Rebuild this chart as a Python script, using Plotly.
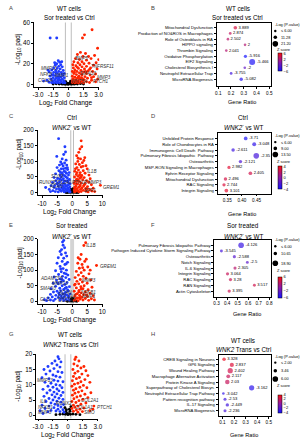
import plotly.graph_objects as go

W, H = 307, 440
FONT = "Arial"
BLUE = "#1f3cff"
RED = "#ff2400"

# ---------------- Volcano data (log2FC, -log10 padj) ----------------
A_blue = [(-1.8,45),(-1.15,45),(-1.0,23),(-0.85,21.5),(-1.15,20),(-0.75,19),(-1.3,18.5),(-0.95,17.5),
          (-0.6,17),(-1.45,16),(-1.1,15.5),(-0.8,15),(-1.65,14),(-1.25,13.5),(-0.5,13.5),(-0.95,12.5),
          (-1.9,12),(-1.45,11.5),(-0.7,11.5),(-1.15,10.5),(-0.4,10.5),(-1.6,9.5),(-0.9,9.5),(-1.3,8.5),
          (-0.55,8.5),(-1.8,8),(-1.05,7.5),(-0.75,7),(-1.5,6.5),(-0.4,6.5),(-1.2,6),(-0.95,5.5),(-1.7,5),
          (-0.6,5),(-1.35,4.5),(-0.8,4),(-2.1,4),(-1.05,3.5),(-0.45,3.5),(-1.55,3),(-2.45,3.2),(-1.25,2.5),
          (-0.7,2.5),(-1.9,2),(-1.0,2),(-0.4,2),(-1.4,1.5),(-0.85,1.5),(-0.55,1.5),(-1.15,1.5),(-1.65,1.6),
          (-0.33,1.5),(-2.0,13.8),(-1.35,21),(-0.65,22),(-1.2,11.5),(-0.9,7),(-0.6,10),(-1.5,9),(-1.0,4.5)]
A_red = [(2.35,53),(1.6,48),(1.4,45),(2.9,35),(3.0,24),(2.0,27),(1.7,30),(1.2,31),(0.9,29),(2.6,28),
         (1.45,27),(0.7,25),(2.25,25),(1.1,24),(1.8,23.5),(0.55,22),(1.35,22),(2.75,21),(0.95,21),
         (2.05,20.5),(1.55,20),(0.45,19),(1.15,19),(2.5,18.5),(0.75,18),(1.8,17.5),(1.35,17),(0.5,16),
         (2.2,16),(1.0,15.5),(2.85,15),(1.6,15),(0.65,14),(1.25,13.5),(1.95,13),(0.4,12.5),(0.85,12.5),
         (2.4,12.5),(1.5,12),(1.1,11),(0.55,10.5),(1.8,10.5),(2.7,10),(0.8,9.5),(1.35,9),(2.15,9),(0.4,8),
         (1.05,8),(1.65,7.5),(2.5,7.5),(0.65,7),(1.3,6.5),(0.9,6),(1.9,6),(0.45,5.5),(2.9,5),(1.15,5),
         (0.7,4.5),(1.55,4.5),(2.3,4),(0.4,3.5),(1.0,3.5),(1.35,3),(0.6,2.5),(1.8,2.5),(0.85,2),(1.2,2),
         (0.4,1.8),(2.1,1.8),(1.5,1.6),(0.65,1.5),(1.0,1.5),(2.7,2.5),(1.3,10),(0.9,16.5),(1.7,12.5),
         (2.1,14.5),(0.6,11.5),(1.4,5.5),(1.0,7),(2.3,6.5),(0.8,3)]
A_ns = [(-0.25,0.2),(-0.15,0.5),(-0.05,0.1),(0.05,0.3),(0.15,0.6),(0.25,0.3),(-0.2,1.0),(0.2,1.1),
        (-0.28,1.8),(0.28,2.0),(-0.1,0.8),(0.1,0.9),(-0.5,0.5),(0.5,0.5),(-0.7,0.8),(0.7,0.7),(-0.9,0.4),
        (0.9,0.4),(-1.2,0.6),(1.2,0.7),(-0.4,1.0),(0.4,1.1),(-1.5,0.3),(1.5,0.3),(0.0,0.5),(-0.35,0.2),
        (0.35,0.2),(-0.6,0.2),(0.6,0.2),(-0.25,2.5),(0.22,3.0)]

C_blue = [(-4.5,173),(-2.4,147),(-2.2,130),(-5.1,116),(-2.8,122),(-3.3,108),(-2.0,104),(-3.8,98),(-2.5,95),
          (-4.2,88),(-1.8,88),(-3.0,85),(-5.0,80),(-2.2,78),(-3.6,76),(-1.5,74),(-4.4,70),(-2.7,68),
          (-3.3,62),(-1.9,62),(-5.5,60),(-4.0,57),(-1.2,56),(-2.5,54),(-3.7,50),(-6.0,48),(-1.6,47),
          (-4.8,45),(-2.9,44),(-0.9,42),(-3.5,40),(-5.4,38),(-2.1,37),(-4.2,34),(-1.3,33),(-6.5,32),
          (-3.0,30),(-0.7,28),(-5.0,27),(-2.4,26),(-3.9,24),(-1.7,22),(-7.0,22),(-4.6,20),(-2.9,19),
          (-0.8,18),(-6.0,16),(-3.5,15),(-1.4,14),(-2.2,12),(-5.2,11),(-8.8,16),(-7.6,10),(-4.1,9),
          (-0.9,9),(-2.8,7),(-6.4,6),(-1.9,5),(-3.6,4),(-5.6,3),(-1.1,3),(-2.6,2),(-4.6,2),(-7.2,3),
          (-0.7,2),(-3.2,11),(-1.5,38),(-2.6,36),(-4.0,43),(-2.0,50),(-3.0,56),(-1.0,64),(-2.3,67),
          (-3.9,66),(-2.9,76),(-1.6,80),(-3.4,92),(-4.9,30),(-2.0,20),(-3.2,22),(-1.2,25),(-5.8,22),
          (-4.4,12),(-2.6,14),(-1.6,8)]
C_red = [(3.0,166),(3.2,147),(2.2,129),(3.9,103),(9.4,23),(2.6,140),(1.5,118),(4.2,112),(2.8,108),
         (1.9,100),(3.4,96),(1.2,92),(2.4,90),(4.6,86),(3.0,82),(1.6,80),(5.0,76),(2.1,72),(3.7,70),
         (0.9,68),(2.7,64),(4.3,62),(1.4,58),(5.6,56),(3.2,55),(2.0,52),(0.8,50),(4.0,48),(2.6,46),
         (6.0,44),(1.5,43),(3.5,41),(4.8,38),(1.0,36),(2.3,35),(5.5,33),(3.0,31),(0.7,29),(4.3,28),
         (1.8,27),(6.4,25),(2.7,24),(3.8,21),(1.2,20),(5.1,19),(2.2,17),(0.8,16),(3.3,15),(7.0,14),
         (4.5,13),(1.6,12),(2.8,10),(5.9,9),(0.7,8),(3.7,7),(2.0,6),(6.6,5),(4.6,4),(1.2,4),(3.0,3),
         (0.8,2),(2.2,2),(5.3,2),(7.5,3),(1.8,37),(2.5,57),(1.1,76),(3.6,84),(2.0,110),(1.4,28),
         (2.6,20),(4.0,24),(1.0,12),(2.0,40),(3.0,50),(1.6,64),(5.0,12)]
C_ns = [(-0.5,1),(0.5,1),(-0.3,3),(0.3,3),(0,0.5),(-0.2,6),(0.2,6),(-1.0,0.5),(1.0,0.5),(-1.5,0.3),
        (1.5,0.3),(-2,0.2),(2,0.2),(-0.4,10),(0.3,12)]

E_blue = [(-3.5,166),(-3.2,190),(-2.8,195),(-3.0,180),(-2.5,172),(-4.0,160),(-2.2,155),(-3.6,150),
          (-1.8,145),(-4.6,140),(-2.8,138),(-3.3,128),(-1.5,125),(-5.0,122),(-2.4,118),(-4.0,112),
          (-3.0,105),(-1.9,100),(-5.5,98),(-3.6,95),(-2.6,90),(-4.5,86),(-1.4,84),(-3.2,80),(-6.0,78),
          (-2.1,76),(-4.0,72),(-1.0,70),(-5.2,68),(-2.9,66),(-3.7,62),(-1.7,60),(-6.3,58),(-4.6,56),
          (-2.4,54),(-3.3,50),(-5.5,48),(-0.9,47),(-1.9,44),(-4.1,42),(-7.0,40),(-2.8,38),(-3.8,34),
          (-1.3,33),(-5.0,32),(-6.2,30),(-2.2,29),(-4.4,26),(-3.1,24),(-0.7,23),(-7.2,22),(-1.8,20),
          (-5.4,19),(-3.6,17),(-2.6,15),(-6.6,14),(-4.6,12),(-1.2,11),(-8.0,11),(-3.0,9),(-5.6,7),
          (-2.0,6),(-9.2,5),(-7.2,4),(-4.0,4),(-1.0,3),(-2.8,2),(-6.2,2),(-8.5,2),(-3.8,104),(-2.0,88),
          (-3.4,70),(-2.3,42),(-4.9,60),(-1.5,36),(-2.5,22),(-3.5,10),(-1.2,16),(-4.2,20),(-2.0,120)]
E_red = [(3.9,179),(4.5,188),(8.1,115),(3.0,150),(2.6,135),(4.2,128),(1.9,122),(3.3,118),(5.2,110),
         (2.4,106),(4.0,100),(1.4,96),(3.0,92),(5.6,88),(2.1,84),(3.7,80),(1.0,76),(4.6,74),(2.7,70),
         (6.2,68),(1.6,64),(3.4,62),(5.0,58),(2.2,56),(0.8,52),(4.0,50),(2.9,47),(6.6,45),(1.4,43),
         (3.6,40),(5.3,37),(2.3,35),(0.7,32),(4.4,30),(3.0,27),(6.0,26),(1.7,24),(3.8,21),(2.5,19),
         (7.0,18),(0.9,16),(5.1,15),(3.2,13),(1.9,11),(4.4,9),(6.4,8),(2.7,7),(1.0,5),(3.6,4),(5.5,3),
         (2.0,2),(0.7,2),(7.4,4),(4.8,20),(3.5,108),(2.0,140),(4.7,135),(6.0,100),(1.2,22),(2.2,30),
         (1.5,10),(3.0,40),(1.0,55),(2.6,12)]
E_ns = [(-0.4,1),(0.4,1),(0,0.5),(-0.3,4),(0.3,4),(-1,0.5),(1,0.5),(-1.6,0.3),(1.6,0.3),(-0.2,8),(0.2,9)]

G_blue = [(-1.0,19.2),(-0.9,18.5),(-1.3,17.8),(-0.7,17.5),(-1.6,17),(-1.1,16.5),(-2.0,16),(-0.8,15.8),
          (-1.4,15.3),(-2.4,15),(-1.8,14.5),(-1.0,14.3),(-0.6,14),(-2.2,13.5),(-1.5,13.2),(-1.2,12.8),
          (-0.8,12.5),(-2.6,12.3),(-1.9,12),(-1.4,11.5),(-1.0,11.2),(-0.5,11),(-2.3,10.8),(-1.7,10.5),
          (-1.2,10),(-0.8,9.8),(-2.0,9.5),(-1.5,9.2),(-0.6,9),(-1.1,8.6),(-2.5,8.5),(-1.8,8.2),(-0.9,8),
          (-1.4,7.6),(-0.5,7.5),(-2.1,7.3),(-1.1,7),(-1.6,6.7),(-0.7,6.5),(-2.4,6.2),(-1.3,6),(-0.9,5.6),
          (-1.9,5.5),(-0.5,5.2),(-1.5,5),(-1.1,4.6),(-2.2,4.5),(-0.7,4.3),(-1.7,4),(-1.3,3.6),(-0.45,3.5),
          (-2.6,3.3),(-1.0,3.2),(-1.9,3),(-0.7,2.7),(-1.4,2.5),(-2.3,2.2),(-1.0,2),(-0.5,1.8),(-1.7,1.6),
          (-1.2,1.4),(-0.8,1.2),(-2.0,1.1),(-0.4,1.0),(-2.8,1.5),(-2.5,0.6)]
G_red = [(0.8,19),(0.7,18.3),(1.1,17.8),(1.6,16),(0.6,16.8),(0.95,16.2),(1.3,15.5),(0.5,15),(1.8,14.6),
         (1.0,14.4),(0.7,13.8),(1.4,13.5),(2.0,13),(0.55,12.7),(1.15,12.4),(0.85,12),(1.7,11.7),
         (0.45,11.3),(1.3,11),(2.2,10.8),(1.0,10.5),(0.65,10.2),(1.55,9.8),(0.4,9.5),(1.2,9.2),(1.9,9),
         (0.8,8.7),(0.55,8.2),(1.4,8),(1.05,7.6),(2.3,7.4),(0.7,7.2),(1.7,6.9),(0.45,6.6),(1.25,6.3),
         (0.9,6),(2.0,5.8),(0.6,5.4),(1.5,5.2),(1.1,4.8),(0.4,4.5),(0.8,4.2),(1.8,4),(1.3,3.6),(0.55,3.3),
         (2.6,3.0),(1.0,3),(0.7,2.6),(1.6,2.4),(0.4,2.2),(1.2,2),(0.85,1.7),(2.2,1.5),(0.55,1.3),
         (1.45,1.2),(1.0,1.0),(2.5,2.0)]
G_ns = [(-0.25,0.3),(-0.1,0.6),(0.0,0.2),(0.1,0.5),(0.25,0.3),(-0.2,1.2),(0.2,1.3),(-0.5,0.4),(0.5,0.4),
        (-0.8,0.3),(0.8,0.3),(-1.2,0.2),(1.2,0.2),(-0.3,2.5),(0.3,2.8),(-0.15,1.8),(0.15,2.0)]

# gene labels (name, log2FC, -log10 padj, anchor)
A_genes = [("MMP13",-1.9,15.6,"center"),("NFKB",-2.25,9.9,"center"),("COL2A",-2.25,4.1,"center"),
           ("MMP1",-0.65,8.5,"center"),("BMP5",1.3,25.5,"center"),("TNFRSF11",2.05,17.8,"left"),
           ("SMAD3",1.9,10.8,"center"),("MMP3",2.65,7,"left"),("WNT5A",1.1,3,"center"),
           ("PTCH1",2.2,2.9,"left")]
C_genes = [("IL1B",6.5,68,"center"),("GREM1",9.6,15,"left"),("MMP3",7.5,31,"center"),
           ("PTH1R",2.7,31,"center"),("SPP1",6.1,7.6,"center"),("RUNX2",-8.4,31,"center"),
           ("SOX9",-4.7,52,"center"),("ACAN",-5.5,18,"center"),("COL2A1",-3.0,31,"center")]
E_genes = [("IL1B",6.2,179,"center"),("GREM1",8.6,113,"left"),("ADAMTS5",-6.9,73,"center"),
           ("MMP13",-3.9,57,"center"),("SMAD3",-7.9,42,"center"),("ACAN",-2.5,27,"center"),
           ("COL1A1",-1.8,14,"center"),("COL2A1",-1.8,2,"center"),("MMP3",5.6,66,"center"),
           ("NFKB1",5.6,29,"center"),("MMP1",5.6,15,"center"),("GLI1",-9,5,"center")]
G_genes = [("MMP13",-2.3,11.4,"center"),("IL6",-2.45,4.6,"center"),("NFKB1",-2.3,2.5,"center"),
           ("MMP3",-2.3,0.8,"center"),("RUNX2",-0.4,3.9,"center"),("COL2A1",2.2,5,"center"),
           ("COL1A1",1.6,2.6,"center"),("PTCH1",2.75,2.6,"left"),("SMO",2.2,0.8,"center")]

# ---------------- Pathway dot-plot data ----------------
B_terms = ["Mitochondrial Dysfunction","Production of NO&ROS in Macrophages","Role of Osteoblasts in RA",
           "HIPPO signaling","Thrombin Signaling","Oxidative Phosphorylation","EIF2 Signaling",
           "Cholesterol Biosynthesis I","Neutrophil Extracellular Trap","MicroRNA Biogenesis"]
B_ratio = [0.234,0.194,0.176,0.31,0.163,0.313,0.366,0.308,0.201,0.28]
B_z = [3.889,2.874,2.502,2,2.041,-5.916,-5.466,-2,-3.755,-5.082]
B_logp = [12,8,7,7,7,10,23,7,8,11]
B_leg = [6.00,11.28,21.20]

D_terms = ["Unfolded Protein Response","Role of Chondrocytes in RA","Immunogenic Cell Death  Pathway",
           "Pulmonary Fibrosis Idiopathic  Pathway","Osteoarthritis","MSP-RON Signaling in Macrophages",
           "Ephrin Receptor Signaling","Mitochondrial Dysfunction","RAC Signaling","Integrin Signaling"]
D_ratio = [0.413,0.442,0.370,0.449,0.395,0.356,0.429,0.344,0.339,0.347]
D_z = [-3.71,-3.048,-2.611,-2.35,-2.121,2.982,2.405,2.496,2.744,3.101]
D_logp = [9,9.5,8.5,13.5,8.5,8,9,8.5,8,9]
D_leg = [6.00,9.00,13.50]

F_terms = ["Pulmonary Fibrosis Idiopathic Pathway","Pathogen Induced Cytokine Storm Signaling Pathway",
           "Osteoarthritis","Notch Signaling","IL-6 Signaling","Integrin Signaling","RAC Signaling",
           "RAN Signaling","Actin Cytoskeleton"]
F_ratio = [0.533,0.346,0.469,0.592,0.475,0.404,0.432,0.659,0.42]
F_z = [-4.126,-3.545,-2.588,-2.5,2.305,3.064,3.28,3.517,3.395]
F_logp = [18.9,8,9,8,9,9,9.5,8,9.5]
F_leg = [6.00,10.65,18.90]

H_terms = ["CREB Signaling in Neurons","GP6 Signaling","Wound Healing Pathway",
           "Macrophage Alternative Activation","Protein Kinase A Signaling",
           "Superpathway of Cholesterol Biosyn.","Neutrophil Extracellular Trap Pathway",
           "Pattern recognition pathway","IL-17 Signaling","MicroRNA Biogenesis"]
H_ratio = [0.114,0.181,0.167,0.15,0.142,0.352,0.108,0.122,0.142,0.122]
H_z = [3.328,2.837,2.402,2.117,2.03,-3.162,-3.042,-2.53,-2.449,-2.236]
H_logp = [3.4,4.2,5.5,3.8,4.6,5.5,2.2,2.8,3.2,2.8]
H_leg = [2.00,3.46,6.00]

# ---------------- helpers ----------------
def px(x): return x / W
def py(y): return 1 - y / H

fig = go.Figure()
layout = dict(width=W, height=H, margin=dict(l=0, r=0, t=0, b=0), paper_bgcolor="white",
              plot_bgcolor="white", showlegend=False, font=dict(family=FONT, color="black"))
ann = []
shapes = []

def text(s, x, y, size, xa="center", ya="middle", angle=0, color="black"):
    ann.append(dict(text=s, x=px(x), y=py(y), xref="paper", yref="paper", xanchor=xa, yanchor=ya,
                    showarrow=False, textangle=angle, font=dict(size=size, color=color, family=FONT)))

AX = dict(showline=True, linecolor="black", linewidth=0.8, ticks="outside", ticklen=2, tickwidth=0.8,
          tickcolor="black", showgrid=False, zeroline=False)

def volcano(i, pts_b, pts_r, pts_n, genes, xdom, ydom, xr, yr, xt, xtt, yt, thr, band=False):
    xa = "x" if i == 1 else f"x{i}"
    ya = "y" if i == 1 else f"y{i}"
    for pts, col in ((pts_n, "black"), (pts_b, BLUE), (pts_r, RED)):
        fig.add_trace(go.Scatter(x=[p[0] for p in pts], y=[p[1] for p in pts], mode="markers",
                                 marker=dict(size=2.9, color=col, line=dict(width=0)),
                                 xaxis=xa, yaxis=ya, hoverinfo="skip"))
    key = "" if i == 1 else str(i)
    layout["xaxis" + key] = dict(AX, domain=[px(xdom[0]), px(xdom[1])], range=xr, tickvals=xt,
                                 ticktext=xtt, tickfont=dict(size=6.3), anchor=ya)
    layout["yaxis" + key] = dict(AX, domain=[py(ydom[1]), py(ydom[0])], range=yr, tickvals=yt,
                                 tickfont=dict(size=6.3), anchor=xa)
    if band:
        shapes.append(dict(type="rect", xref=xa, yref=ya + " domain", x0=-thr, x1=thr, y0=0, y1=1,
                           fillcolor="#d4d4d4", line=dict(width=0), layer="below"))
    else:
        for t in (-thr, thr):
            shapes.append(dict(type="line", xref=xa, yref=ya + " domain", x0=t, x1=t, y0=0, y1=1,
                               line=dict(color="#bdbdbd", width=1), layer="below"))
    for g, gx, gy, anc in genes:
        ann.append(dict(text=f"<i>{g}</i>", x=gx, y=gy, xref=xa, yref=ya, xanchor=anc,
                        showarrow=False, font=dict(size=4.6, color="#333333", family=FONT)))

COLORSCALE = [[0, "#1515ff"], [0.5, "#8c1aa8"], [1, "#ff1010"]]

def dotplot(i, cax, terms, ratio, z, logp, leg, zmax, zticks, xdom, ydom, xr, yr, xt, xtt,
            legy, zlabel_y, cb_top, cb_len):
    xa, ya = f"x{i}", f"y{i}"
    lo, hi = leg[0], leg[2]
    def diam(v):
        return max(2.4, 2.4 + (v - lo) / (hi - lo) * 3.2)
    fig.add_trace(go.Scatter(x=ratio, y=list(range(len(terms))), mode="markers+text",
                             marker=dict(size=[diam(v) for v in logp], color=z, coloraxis=cax,
                                         line=dict(width=0)),
                             text=[f"{v:g}" for v in z], textposition="middle right",
                             textfont=dict(size=4.1, color="black", family=FONT),
                             xaxis=xa, yaxis=ya, hoverinfo="skip"))
    layout[f"xaxis{i}"] = dict(AX, domain=[px(xdom[0]), px(xdom[1])], range=xr, tickvals=xt,
                               ticktext=xtt, tickfont=dict(size=4.6), mirror=True, anchor=ya)
    layout[f"yaxis{i}"] = dict(AX, domain=[py(ydom[1]), py(ydom[0])], range=yr,
                               tickvals=list(range(len(terms))), ticktext=terms,
                               tickfont=dict(size=4.2), mirror=True, anchor=xa)
    layout[cax] = dict(cmin=-zmax, cmax=zmax, colorscale=COLORSCALE,
                       colorbar=dict(x=px(282.7), xanchor="left", y=py(cb_top), yanchor="top",
                                     lenmode="pixels", len=cb_len, thicknessmode="pixels",
                                     thickness=4.3, xpad=0, ypad=0, outlinewidth=0.5,
                                     outlinecolor="black", tickvals=zticks, ticks="",
                                     tickfont=dict(size=4, family=FONT)))
    # size legend
    text("-Log (P-value)", 277.2, legy[0] - 6.5, 3.9, xa="left")
    labs = [f"\u2264 {leg[0]:.2f}", f"{leg[1]:.2f}", f"{leg[2]:.2f}"]
    for v, yy, lab in zip(leg, legy, labs):
        d = diam(v)
        shapes.append(dict(type="circle", xref="paper", yref="paper", xsizemode="pixel",
                           ysizemode="pixel", xanchor=px(279.5), yanchor=py(yy), x0=-d / 2, x1=d / 2,
                           y0=-d / 2, y1=d / 2, fillcolor="black", line=dict(width=0)))
        text(lab, 283.3, yy, 3.9, xa="left")
    text("Z score", 279.5, zlabel_y - 1, 3.9, xa="left")

# ---------------- build panels ----------------
volcano(1, A_blue, A_red, A_ns, A_genes, (31, 98), (18.7, 83.7), [-3.39, 3.05], [-2.3, 60],
        [-3, -1.5, 0, 1.5, 3], ["-3.0", "-1.5", "0", "1.5", "3.0"], [0, 20, 40, 60], 0.29)
volcano(3, C_blue, C_red, C_ns, C_genes, (35, 101.5), (127.7, 193.3), [-11.35, 10.1], [-8.3, 200],
        [-10, -5, 0, 5, 10], ["-10", "-5", "0", "5", "10"], [0, 50, 100, 150, 200], 0.45)
volcano(5, E_blue, E_red, E_ns, E_genes, (35, 101.5), (237.7, 303.3), [-11.35, 10.1], [-8.3, 200],
        [-10, -5, 0, 5, 10], ["-10", "-5", "0", "5", "10"], [0, 50, 100, 150, 200], 0.65, band=True)
volcano(7, G_blue, G_red, G_ns, G_genes, (33.3, 97), (354.3, 419.3), [-3.17, 3.03], [-1.07, 20],
        [-3, -1.5, 0, 1.5, 3], ["-3.0", "-1.5", "0", "1.5", "3.0"], [0, 5, 10, 15, 20], 0.29)

dotplot(2, "coloraxis", B_terms, B_ratio, B_z, B_logp, B_leg, 6, [6, 2, -2, -6],
        (219, 275), (19, 83.3), [0.087, 0.513], [10.26, -0.865],
        [0.1, 0.2, 0.3, 0.4, 0.5], ["0.1", "0.2", "0.3", "0.4", "0.5"],
        [27.3, 33.7, 40.3], 46.7, 50, 18.3)
dotplot(4, "coloraxis2", D_terms, D_ratio, D_z, D_logp, D_leg, 4, [4, 2, 0, -2, -4],
        (220, 275), (130.7, 191.7), [0.317, 0.499], [9.5, -0.9],
        [0.35, 0.40, 0.45, 0.50], ["0.35", "0.40", "0.45", "0.50"],
        [139.7, 146, 152.3], 160, 164.3, 23)
dotplot(6, "coloraxis3", F_terms, F_ratio, F_z, F_logp, F_leg, 6, [6, 2, -2, -6],
        (216.7, 275), (238.3, 296), [0.279, 0.816], [8.98, -0.98],
        [0.3, 0.4, 0.5, 0.6, 0.7, 0.8], ["0.3", "0.4", "0.5", "0.6", "0.7", "0.8"],
        [245, 252.3, 262.3], 270.7, 276, 20.7)
dotplot(8, "coloraxis4", H_terms, H_ratio, H_z, H_logp, H_leg, 4, [4, 2, 0, -2, -4],
        (221, 275), (355, 416.7), [0.066, 0.5185], [9.93, -0.74],
        [0.1, 0.2, 0.3, 0.4, 0.5], ["0.1", "0.2", "0.3", "0.4", "0.5"],
        [362.7, 371, 379.3], 387.3, 395, 18.3)

# ---------------- titles & axis titles ----------------
WNKm = "<i>WNK2</i><sup>-</sup> vs WT"
for (l1, l2, cx, y1, y2) in [("WT cells", "Sor treated vs Ctrl", 67, 4.5, 14),
                             ("Ctrl", WNKm, 70, 114.5, 124),
                             ("Sor treated", WNKm, 70, 224.5, 234.5),
                             ("WT cells", "<i>WNK2</i> Trans vs Ctrl", 68, 334.5, 344),
                             ("WT cells", "Sor treated vs Ctrl", 241, 4.5, 14),
                             ("Ctrl", WNKm, 246.7, 114.5, 124),
                             ("Sor treated", WNKm, 246.7, 224.5, 234.5),
                             ("WT cells", "<i>WNK2</i> Trans vs Ctrl", 246.7, 340, 349)]:
    text(l1, cx, y1, 6.3)
    text(l2, cx, y2, 6.3)

XLAB = "Log<sub>2</sub> Fold Change"
YLAB = "-Log<sub>10</sub> padj"
for cx, yy in [(64, 100.5), (68, 210), (68, 319.5), (66, 435.5)]:
    text(XLAB, cx, yy, 6.6)
for xx, cy in [(15, 46), (16, 152), (16, 262), (13.5, 387)]:
    text(YLAB, xx, cy, 6.3, angle=-90)
for cx, yy in [(245, 99), (245, 212.5), (250, 314), (247, 436)]:
    text("Gene Ratio", cx, yy, 5.6)

for letter, x, y in [("A", 3, 4.5), ("B", 149, 4.5), ("C", 3, 113.5), ("D", 149, 113.5),
                     ("E", 3, 223.5), ("F", 149, 223.5), ("G", 3, 334), ("H", 149, 334)]:
    text(letter, x, y, 5.8, xa="left", color="#444444")

layout["annotations"] = ann
layout["shapes"] = shapes
fig.update_layout(**layout)
fig.write_html("out.html")
